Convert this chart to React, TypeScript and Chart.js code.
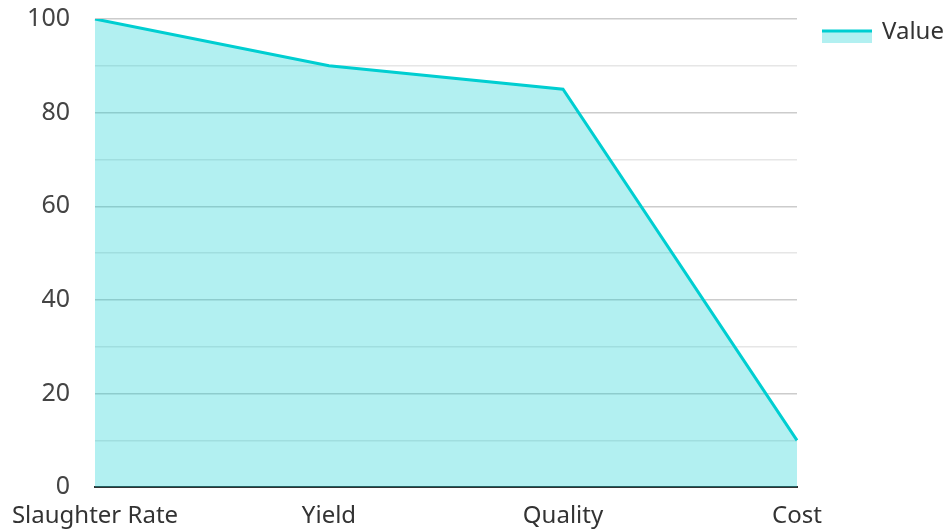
import React, { useEffect, useRef } from "react";
import { Chart, registerables } from "chart.js";

Chart.register(...registerables);

const categories = ["Slaughter Rate", "Yield", "Quality", "Cost"];
const values = [100, 90, 85, 10];
const seriesName = "Value";

const LINE = "#00CED1";
const FILL = "rgba(0, 206, 209, 0.3)";
const FONT = "'Noto Sans', sans-serif";

const legendPlugin = {
  id: "customLegend",
  afterDraw(chart: any) {
    const ctx = chart.ctx;
    const x = 822;
    const y = 31;
    ctx.save();
    ctx.fillStyle = FILL;
    ctx.fillRect(x, y, 50, 12);
    ctx.strokeStyle = LINE;
    ctx.lineWidth = 3;
    ctx.beginPath();
    ctx.moveTo(x, y);
    ctx.lineTo(x + 50, y);
    ctx.stroke();
    ctx.fillStyle = "#333";
    ctx.font = `24px ${FONT}`;
    ctx.textBaseline = "middle";
    ctx.textAlign = "left";
    ctx.fillText(seriesName, x + 60, y + 1);
    ctx.restore();
  },
};

export default function App() {
  const ref = useRef<HTMLCanvasElement | null>(null);
  useEffect(() => {
    document.body.style.margin = "0";
    const chart = new Chart(ref.current!, {
      type: "line",
      data: {
        labels: categories,
        datasets: [
          {
            label: seriesName,
            data: values,
            borderColor: LINE,
            backgroundColor: FILL,
            borderWidth: 3,
            fill: "origin",
            pointRadius: 0,
            tension: 0,
          },
        ],
      },
      options: {
        animation: false,
        responsive: true,
        maintainAspectRatio: false,
        layout: { padding: { top: 0, right: 150, bottom: -15, left: 0 } },
        plugins: { legend: { display: false }, tooltip: { enabled: false } },
        scales: {
          x: {
            offset: false,
            grid: { display: false, drawTicks: false },
            border: { display: true, color: "#333", width: 2 },
            ticks: { color: "#333", font: { family: FONT, size: 24 }, padding: 15, maxRotation: 0 },
            afterFit: (s: any) => {
              s.paddingLeft = 95;
            },
          },
          y: {
            min: 0,
            max: 100,
            grid: {
              drawTicks: false,
              color: (c: any) => (c.tick && c.tick.value % 20 === 0 ? "#cccccc" : "#e6e6e6"),
              lineWidth: 1.5,
            },
            border: { display: false },
            ticks: {
              stepSize: 10,
              color: "#444",
              font: { family: FONT, size: 25 },
              padding: 25,
              callback: (v: any) => (Number(v) % 20 === 0 ? String(v) : ""),
            },
            afterFit: (s: any) => {
              s.paddingTop = 19;
              s.paddingBottom = 0;
            },
          },
        },
      },
      plugins: [legendPlugin],
    });
    return () => chart.destroy();
  }, []);
  return (
    <div style={{ width: 947, height: 531, position: "relative" }}>
      <canvas ref={ref} />
    </div>
  );
}
